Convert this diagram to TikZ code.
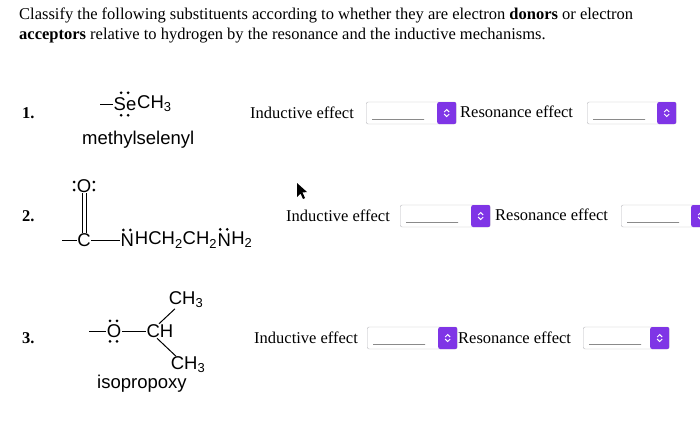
\documentclass[tikz,border=0pt]{standalone}
\usepackage{fontspec}
\setmainfont{Liberation Serif}
\setsansfont{Liberation Sans}
\usetikzlibrary{positioning}
\definecolor{btnpurple}{HTML}{7F35E6}
\definecolor{boxgray}{HTML}{B8B8BC}
\newcommand*{\dropdown}[4]{%
\begin{scope}[shift = {(#2,#3)}, local bounding box = #1]
\node[dropbox, minimum width = #4] (#1-box) at (0,0) {};
\node[dropline, anchor = south west] (#1-line) at ([xshift = 6pt, yshift = 5pt]#1-box.south west) {};
\node[dropbtn, anchor = east] (#1-btn) at (#1-box.east) {};
\draw[white, line width = 1pt] ([xshift = -2.5pt, yshift = 1pt]#1-btn.center) -- ([yshift = 3.5pt]#1-btn.center) -- ([xshift = 2.5pt, yshift = 1pt]#1-btn.center);
\draw[white, line width = 1pt] ([xshift = -2.5pt, yshift = -1pt]#1-btn.center) -- ([yshift = -3.5pt]#1-btn.center) -- ([xshift = 2.5pt, yshift = -1pt]#1-btn.center);
\end{scope}
}
\newcommand*{\lpair}[3]{%
\fill (#1) ++(#2) circle (1.5) ++(#3) circle (1.5);
}
\newcommand*{\sub}[1]{\textsubscript{#1}}
\begin{document}
\begin{tikzpicture}[x = 1pt, y = -1pt]
		\tikzset{
			basefont/.style = {font = \fontsize{16.5}{19}\selectfont},
			label/.style = {basefont, anchor = west, inner sep = 0pt},
			chem/.style = {font = \fontsize{18.5}{21}\sffamily, inner sep = 0.5pt},
			chemname/.style = {font = \fontsize{18.5}{21}\sffamily, anchor = west, inner sep = 0pt},
			num/.style = {font = \fontsize{16.5}{19}\bfseries, anchor = west, inner sep = 0pt},
			bond/.style = {line width = 1pt},
			dropbox/.style = {draw = boxgray, rounded corners = 2pt, minimum height = 22pt, fill = white, anchor = west},
			dropline/.style = {draw = black!70, minimum width = 52pt, minimum height = 0pt, inner sep = 0pt},
			dropbtn/.style = {fill = btnpurple, rounded corners = 2pt, minimum width = 19pt, minimum height = 22pt, inner sep = 0pt},
		};
		\useasboundingbox[fill = white!94!blue!3] (0,0) rectangle (700,429);

		% question
		\node[label] (q1) at (19,15) {Classify the following substituents according to whether they are electron \textbf{donors} or electron};
		\node[label] (q2) at (19,36) {\textbf{acceptors} relative to hydrogen by the resonance and the inductive mechanisms.};

		% 1. methylselenyl
		\node[num] (n1) at (22,113) {1.};
		\node[chem, anchor = west] (se) at (113,104) {Se};
		\node[chem, anchor = west, inner sep = 0pt] (ch3a) at (se.east) {CH\sub{3}};
		\coordinate (b1) at (100,104);
		\draw[bond] (b1) -- (se.west);
		\lpair{se.north}{-4,-4}{7,0}
		\lpair{se.south}{-4,4}{7,0}
		\node[chemname] (nm1) at (82,140) {methylselenyl};
		\node[label] (ind1) at (250,113) {Inductive effect};
		\dropdown{dd1}{366}{113}{90pt}
		\node[label] (res1) at (460,112) {Resonance effect};
		\dropdown{dd2}{587}{113}{89pt}

		% 2. amide
		\node[num] (n2) at (22,216) {2.};
		\node[chem] (c2) at (84,240) {C};
		\node[chem] (o2) at (84,186) {O};
		\coordinate (b2) at (62,240);
		\draw[bond] (b2) -- (c2.west);
		\draw[bond] ([xshift = -2pt]o2.south) -- ([xshift = -2pt]c2.north);
		\draw[bond] ([xshift = 2pt]o2.south) -- ([xshift = 2pt]c2.north);
		\lpair{o2.west}{-2,-4}{0,8}
		\lpair{o2.east}{2,-4}{0,8}
		\node[chem, anchor = west] (n2a) at (120,240) {N};
		\node[chem, anchor = west, inner sep = 0pt] (chain) at (n2a.east) {HCH\sub{2}CH\sub{2}};
		\node[chem, anchor = west, inner sep = 0pt] (n2b) at (chain.east) {N};
		\node[chem, anchor = west, inner sep = 0pt] (nh2) at (n2b.east) {H\sub{2}};
		\draw[bond] (c2.east) -- (n2a.west);
		\lpair{n2a.north}{-4,-3}{7,0}
		\lpair{n2b.north}{-4,-4}{7,0}
		\fill (297,183) -- (297,197) -- (300.5,193.5) -- (303,199) -- (305,198) -- (302.5,192.5) -- (307,192) -- cycle;
		\node[label] (ind2) at (286,216) {Inductive effect};
		\dropdown{dd3}{400}{216}{90pt}
		\node[label] (res2) at (495,215) {Resonance effect};
		\dropdown{dd4}{621}{216}{89pt}

		% 3. isopropoxy
		\node[num] (n3) at (22,338) {3.};
		\node[chem] (o3) at (114,331) {O};
		\node[chem] (ch) at (160,331) {CH};
		\node[chem] (ch3b) at (186,300) {CH\sub{3}};
		\node[chem] (ch3c) at (188,365) {CH\sub{3}};
		\coordinate (b3) at (89,331);
		\draw[bond] (b3) -- (o3.west);
		\draw[bond] (o3.east) -- (ch.west);
		\draw[bond] ([xshift = -1pt]ch.north) -- ([xshift = -11pt]ch3b.south);
		\draw[bond] ([xshift = -3pt]ch.south) -- ([xshift = -12pt]ch3c.north);
		\lpair{o3.north}{-4,-3}{7,0}
		\lpair{o3.south}{-4,3}{7,0}
		\node[chemname] (nm3) at (97,384) {isopropoxy};
		\node[label] (ind3) at (254,338) {Inductive effect};
		\dropdown{dd5}{367}{338}{90pt}
		\node[label] (res3) at (458,338) {Resonance effect};
		\dropdown{dd6}{583}{338}{86pt}
	\end{tikzpicture}
\end{document}
